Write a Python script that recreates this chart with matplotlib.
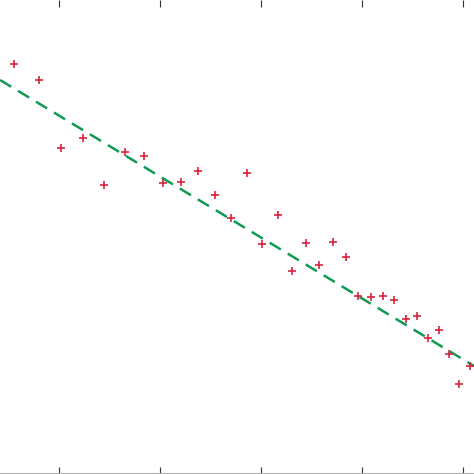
import matplotlib.pyplot as plt

# scatter data
x_vals = [5.54, 8.02, 10.20, 12.38, 14.46, 16.53, 18.42, 20.30, 22.08, 23.76,
          25.45, 27.03, 28.61, 30.10, 31.68, 33.07, 34.46, 35.74, 37.13, 38.42,
          39.60, 40.89, 42.08, 43.17, 44.36, 45.45, 46.53, 47.62, 48.61, 49.60, 50.69]
y_vals = [41.0, 39.4, 32.6, 33.6, 28.9, 32.2, 31.8, 29.1, 29.2, 30.3,
          27.9, 25.6, 30.1, 23.0, 25.9, 20.3, 23.1, 20.9, 23.2, 21.7,
          17.8, 17.7, 17.8, 17.4, 15.5, 15.8, 13.6, 14.4, 12.0, 9.0, 10.8]

# fitted trend line
fit_x = [4.16, 51.09]
fit_y = [39.4, 10.8]

x_ticks = [10, 20, 30, 40, 50]

fig = plt.figure(figsize=(4.74, 4.74), dpi=100)
ax = fig.add_axes([0, 0, 1, 1])

ax.plot(fit_x, fit_y, color='#129a55', lw=1.8, dashes=(5.2, 3.2))
ax.plot(x_vals, y_vals, '+', color='#d8243c', ms=6, mew=1.2)

ax.set_xlim(4.158, 51.09)
ax.set_ylim(0, 47.4)
ax.set_xticks(x_ticks)
ax.set_xticklabels([])
ax.set_yticks([])
ax.tick_params(axis='x', direction='in', top=True, length=5, width=0.8, color='#333333')

ax.spines['left'].set_visible(False)
ax.spines['right'].set_visible(False)
ax.spines['top'].set_visible(False)
ax.spines['bottom'].set_color('#b0b0b0')
ax.spines['bottom'].set_linewidth(1.5)

plt.savefig("out.png", dpi=100)
